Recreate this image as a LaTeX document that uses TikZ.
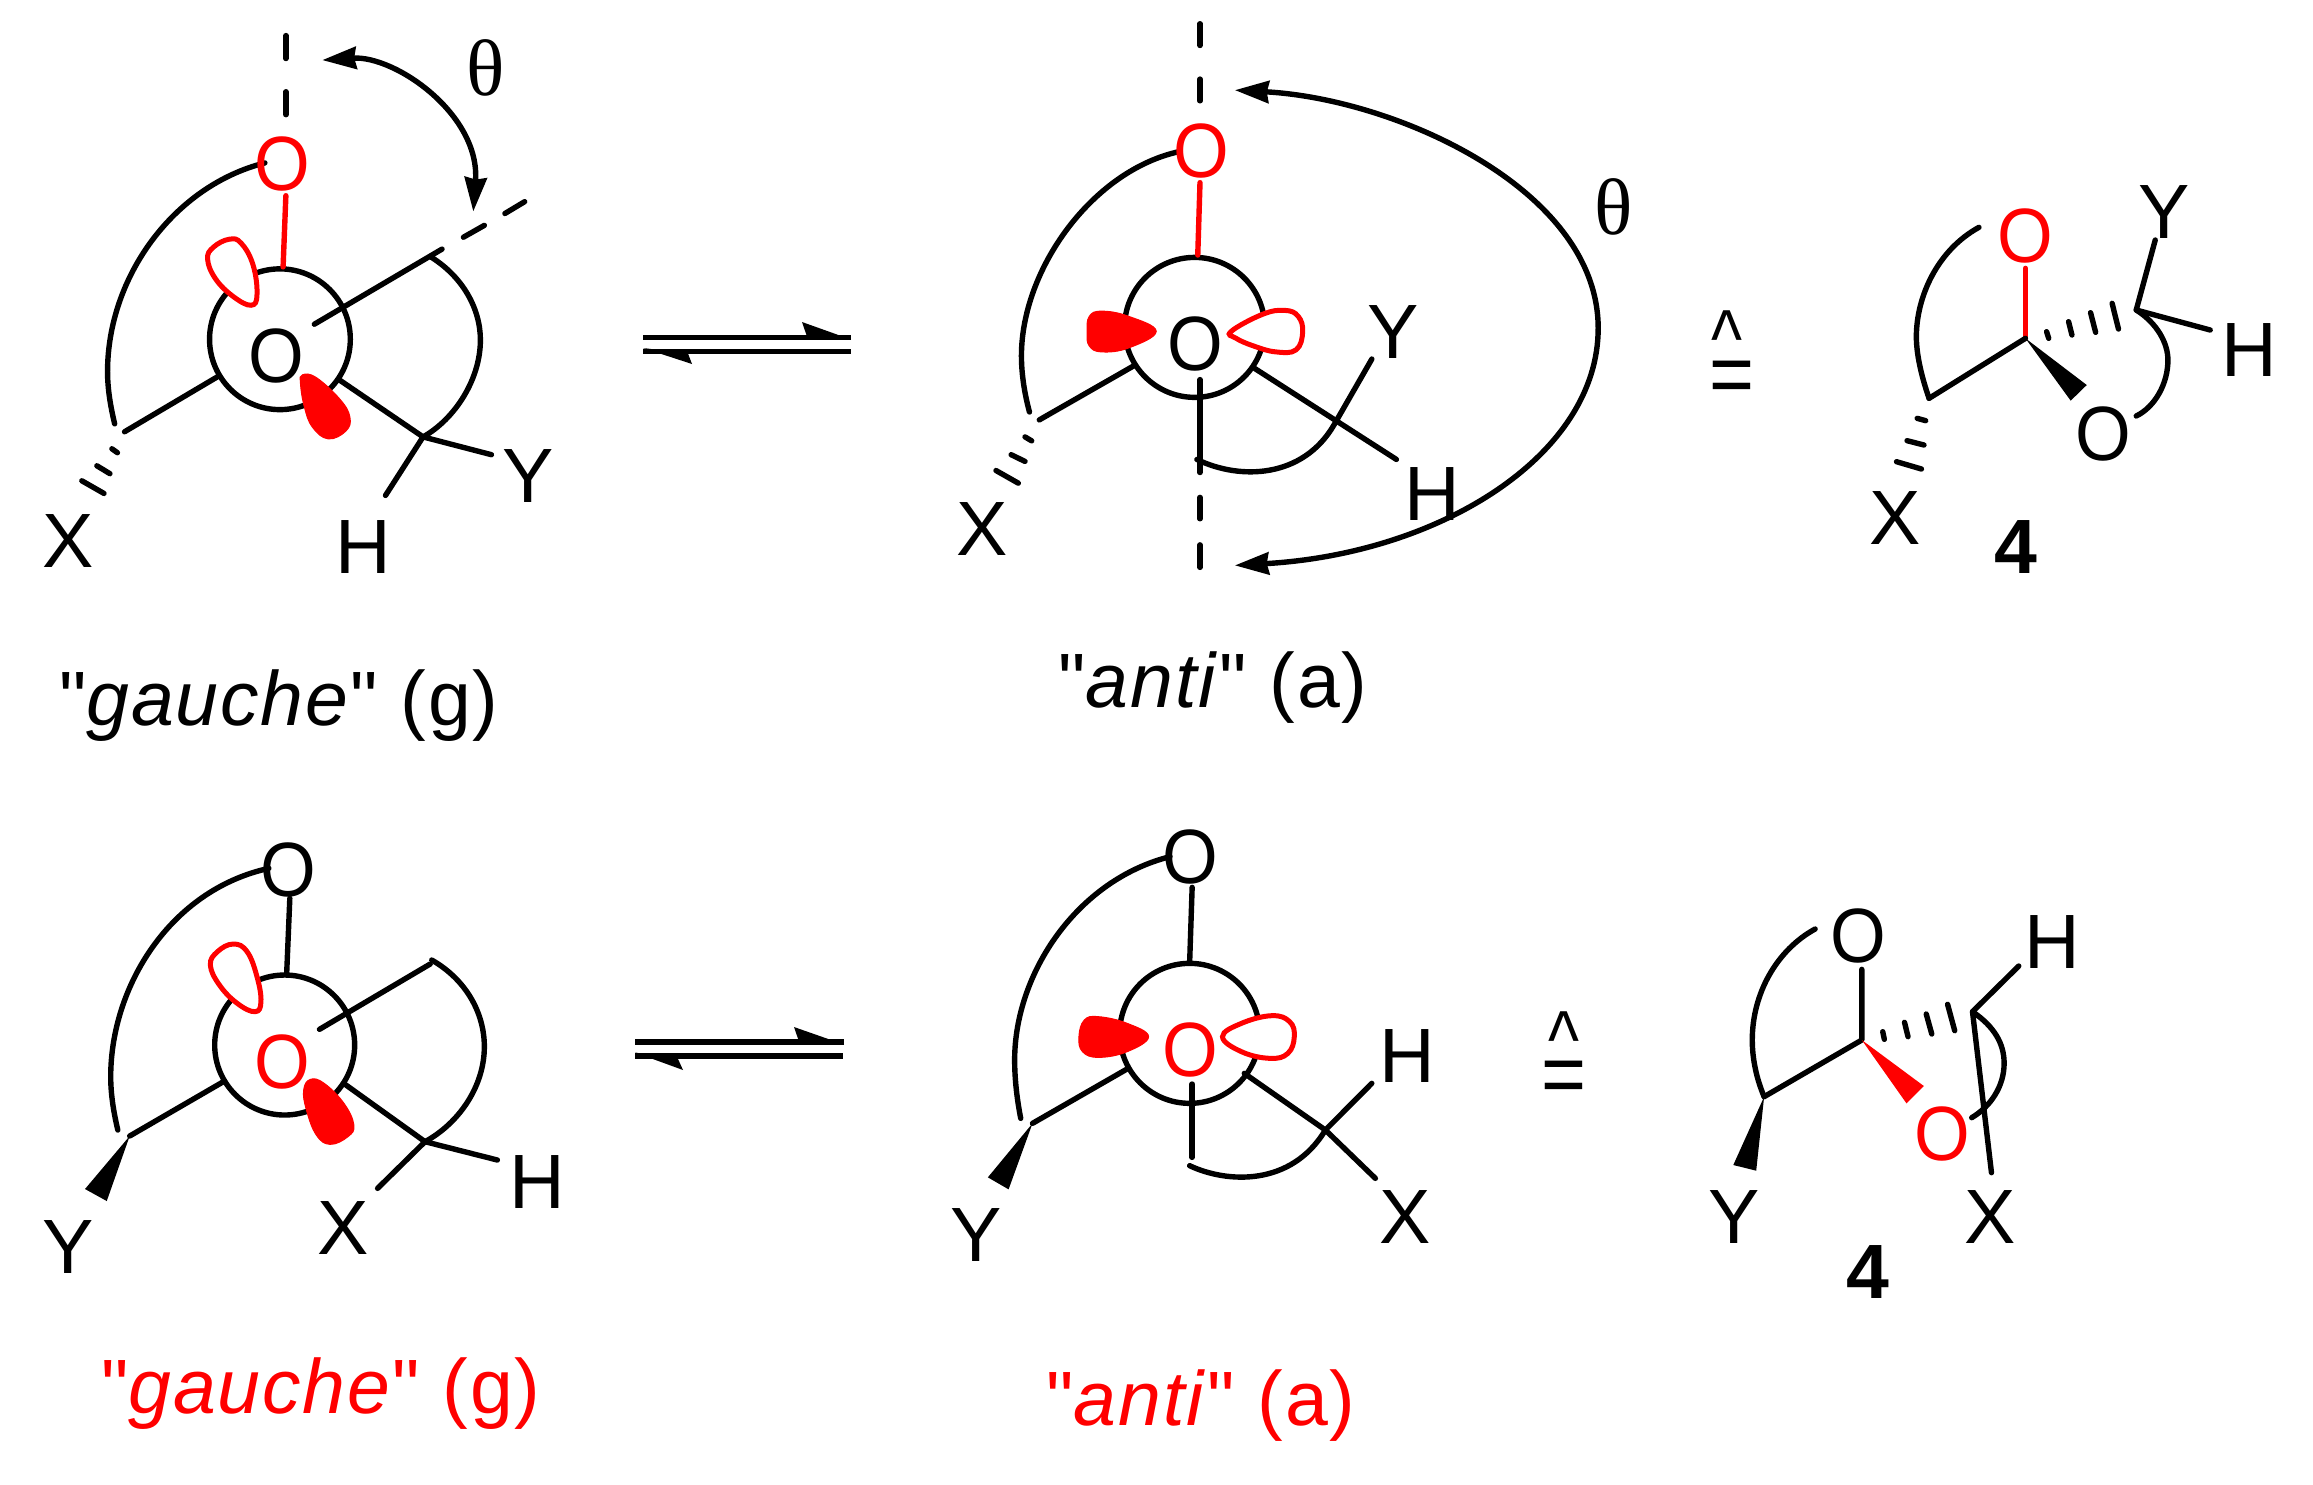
\documentclass[tikz,border=0pt]{standalone}
\usepackage{fontspec}
\usepackage{graphicx}
\setmainfont{Liberation Sans}
\newfontfamily\thetafont{Liberation Serif}
\newfontfamily\capfont[LetterSpace=2.4]{Liberation Sans}
\usetikzlibrary{arrows.meta}
\newcommand{\oxy}{\scalebox{.93}[1]{O}}
\newcommand{\dq}{\symbol{34}}
\newcommand{\caretglyph}{\scalebox{1}[1.25]{\symbol{94}}}
\newcommand{\eqglyph}{\scalebox{1}[1.15]{=}}
\tikzset{
  lab/.style={inner sep=0pt,outer sep=0pt,font=\fontsize{38.5}{40}\selectfont},
  caretlab/.style={inner sep=0pt,outer sep=0pt,anchor=base,font=\fontsize{33}{34}\selectfont},
  capt/.style={inner sep=0pt,outer sep=0pt,anchor=base,font=\capfont\fontsize{38.5}{40}\selectfont},
  bond/.style={line width=2.7pt,line cap=round,line join=round},
  ring/.style={line width=2.7pt},
  lobeopen/.style={draw=red,fill=white,line width=2.5pt},
  lobefull/.style={draw=red,fill=red,line width=.5pt},
  thetal/.style={inner sep=0pt,outer sep=0pt,font=\thetafont\fontsize{40}{42}\selectfont},
  dblarrow/.style={line width=2.7pt,{Stealth[length=17pt,width=11pt,inset=1pt]}-{Stealth[length=17pt,width=11pt,inset=1pt]}},
  wedge/.style={fill=black,draw=none},
  eqfill/.style={fill=black,draw=none},
  px/.style={x=.5pt,y=-.5pt}
}
\begin{document}
\begin{tikzpicture}
\fill[white] (0,0) rectangle (1156.5pt,-742pt);
\useasboundingbox (0,0) rectangle (1156.5pt,-742pt);

% ---------- panel 1: gauche top
\begin{scope}[x=.1977pt,y=-.1977pt]
\draw[ring] (708,858) ellipse [x radius=178,y radius=178];
\draw[bond] (723,90)--(723,148) (723,232)--(723,290);
\draw[bond,red] (723,495)--(716,675);
\draw[bond] (795,820)--(1118,630);
\draw[bond] (1172,600)--(1225,570) (1277,540)--(1327,510);
\draw[bond] (1090,650) .. controls (1170,700) and (1215,780) .. (1215,860) .. controls (1215,960) and (1150,1060) .. (1070,1105);
\draw[bond] (860,962)--(1070,1105)--(1243,1150) (1070,1105)--(975,1253);
\draw[bond] (555,950)--(315,1092);
\draw[bond] (670,412) .. controls (440,470) and (272,700) .. (272,940) .. controls (272,985) and (280,1030) .. (290,1072);
\draw[bond] (283,1135)--(297,1145) (245,1178)--(278,1198) (207,1216)--(263,1248);
\draw[dblarrow] (815,152) .. controls (1000,140) and (1215,290) .. (1197,535);
\draw[lobeopen] plot[smooth cycle,tension=.7] coordinates {(635,772)(650,745)(640,670)(610,615)(580,605)(540,625)(525,655)(545,705)(590,750)};
\draw[lobefull] plot[smooth cycle,tension=.7] coordinates {(765,948)(800,955)(860,1010)(885,1055)(875,1090)(830,1110)(790,1080)(770,1030)(760,970)};
\node[lab,text=red] (o1a) at (715,415) {\oxy};
\node[lab] (o1b) at (700,900) {\oxy};
\node[lab] (x1) at (172,1368) {X};
\node[lab] (h1) at (918,1383) {H};
\node[lab] (y1) at (1337,1203) {Y};
\node[thetal] (t1) at (1228,173) {θ};
\end{scope}

% ---------- panel 2: anti top
\begin{scope}[shift={(475pt,0pt)},x=.2232pt,y=-.1977pt]
\draw[ring] (548,828) ellipse [x radius=157,y radius=177];
\draw[bond] (560,60)--(560,115) (560,200)--(560,255);
\draw[bond,red] (560,462)--(555,645);
\draw[bond] (560,960)--(560,1195) (560,1258)--(560,1312) (560,1378)--(560,1435);
\draw[bond] (553,1162) .. controls (650,1215) and (790,1210) .. (860,1075) -- (945,908);
\draw[bond] (680,930)--(1000,1162);
\draw[bond] (412,925)--(200,1062);
\draw[bond] (515,383) .. controls (320,430) and (160,680) .. (160,900) .. controls (160,950) and (168,1000) .. (178,1042);
\draw[bond] (168,1105)--(183,1115) (137,1150)--(168,1167) (103,1190)--(153,1222);
\draw[dblarrow] (638,228) .. controls (1000,250) and (1452,480) .. (1452,830) .. controls (1452,1150) and (1100,1400) .. (638,1430);
\draw[lobefull] plot[smooth cycle,tension=.7] coordinates {(462,838)(400,800)(340,787)(312,800)(307,840)(312,875)(340,890)(400,880)};
\draw[lobeopen] plot[smooth cycle,tension=.7] coordinates {(630,838)(700,795)(750,785)(780,800)(790,840)(775,885)(730,890)(680,875)(640,855)};
\node[lab,text=red] (o2a) at (563,383) {\oxy};
\node[lab] (o2b) at (550,870) {\oxy};
\node[lab] (x2) at (72,1338) {X};
\node[lab] (h2) at (1080,1250) {H};
\node[lab] (y2) at (993,840) {Y};
\node[thetal] (t2) at (1487,523) {θ};
\end{scope}

% ---------- panel 3: product top
\begin{scope}[shift={(825pt,-75pt)},x=.2114pt,y=-.16667pt]
\draw[bond,red] (888,355)--(888,565);
\draw[bond] (888,565)--(660,745);
\draw[bond] (778,232) .. controls (680,300) and (630,440) .. (630,560) .. controls (630,620) and (645,690) .. (660,745);
\draw[bond] (632,805)--(652,812) (608,872)--(648,885) (583,935)--(642,957);
\fill[wedge] (888,565)--(1033,705)--(995,752)--cycle;
\draw[bond] (938,545)--(943,565) (990,515)--(998,555) (1042,488)--(1054,547) (1093,460)--(1108,537);
\draw[bond] (1195,270)--(1150,480)--(1325,540);
\draw[bond] (1150,480) .. controls (1200,520) and (1225,580) .. (1225,630) .. controls (1225,700) and (1195,770) .. (1150,798);
\node[lab,text=red] (o3a) at (888,258) {\oxy};
\node[lab] (o3b) at (1072,852) {\oxy};
\node[lab] (y3) at (1215,185) {Y};
\node[lab] (h3) at (1418,600) {H};
\node[lab] (x3) at (580,1103) {X};
\node[lab,font=\bfseries\fontsize{38.5}{40}\selectfont] (n3) at (865,1192) {4};
\node[caretlab] (c3) at (182,652) {\caretglyph};
\node[lab] (e3) at (193,698) {\eqglyph};
\end{scope}

% ---------- panel 4: gauche bottom
\begin{scope}[shift={(0pt,-410pt)},x=.1977pt,y=-.16667pt]
\draw[ring] (720,675) ellipse [x radius=177,y radius=210];
\draw[bond] (733,235)--(725,462);
\draw[bond] (808,628)--(1088,432);
\draw[bond] (1092,420) .. controls (1180,480) and (1225,580) .. (1225,680) .. controls (1225,800) and (1160,910) .. (1075,965);
\draw[bond] (875,795)--(1075,965)--(1258,1020) (1075,965)--(955,1105);
\draw[bond] (565,785)--(328,948);
\fill[wedge] (328,948)--(215,1107)--(270,1143)--cycle;
\draw[bond] (680,145) .. controls (430,210) and (280,500) .. (280,770) .. controls (280,825) and (288,880) .. (298,930);
\draw[lobeopen] plot[smooth cycle,tension=.7] coordinates {(645,575)(660,545)(650,470)(625,395)(590,372)(550,395)(532,435)(555,495)(600,550)};
\draw[lobefull] plot[smooth cycle,tension=.7] coordinates {(785,778)(820,790)(870,850)(895,915)(880,950)(835,973)(800,945)(775,870)(768,810)};
\node[lab] (o4a) at (730,150) {\oxy};
\node[lab,text=red] (o4b) at (714,725) {\oxy};
\node[lab] (y4) at (173,1280) {Y};
\node[lab] (x4) at (868,1225) {X};
\node[lab] (h4) at (1358,1085) {H};
\end{scope}

% ---------- panel 5: anti bottom
\begin{scope}[shift={(460pt,-400pt)},x=.17857pt,y=-.16667pt]
\draw[ring] (755,700) ellipse [x radius=196,y radius=210];
\draw[bond] (762,262)--(755,487);
\draw[bond] (700,170) .. controls (440,240) and (265,520) .. (265,780) .. controls (265,840) and (272,900) .. (282,955);
\draw[bond] (578,808)--(315,970);
\fill[wedge] (315,970)--(190,1132)--(248,1168)--cycle;
\draw[bond] (908,820)--(1135,990)--(1275,1135) (1135,990)--(1265,850);
\draw[bond] (762,852)--(762,1072);
\draw[bond] (755,1097) .. controls (860,1150) and (1040,1160) .. (1135,990);
\draw[lobefull] plot[smooth cycle,tension=.7] coordinates {(640,710)(580,670)(500,650)(460,660)(445,710)(455,755)(500,772)(580,755)};
\draw[lobeopen] plot[smooth cycle,tension=.7] coordinates {(847,710)(900,670)(985,647)(1035,665)(1048,710)(1030,760)(980,775)(900,755)};
\node[lab] (o5a) at (758,170) {\oxy};
\node[lab,text=red] (o5b) at (758,750) {\oxy};
\node[lab] (h5) at (1365,768) {H};
\node[lab] (x5) at (1358,1250) {X};
\node[lab] (y5) at (158,1305) {Y};
\end{scope}

% ---------- panel 6: product bottom
\begin{scope}[shift={(750pt,-440pt)},x=.1977pt,y=-.16667pt]
\draw[bond] (915,268)--(915,480)--(668,650);
\draw[bond] (797,147) .. controls (700,210) and (638,340) .. (638,480) .. controls (638,540) and (650,600) .. (668,650);
\fill[wedge] (668,650)--(590,855)--(648,872)--cycle;
\fill[red] (915,480)--(1072,618)--(1028,670)--cycle;
\draw[bond] (968,455)--(972,478) (1023,427)--(1032,470) (1078,402)--(1092,462) (1132,373)--(1150,452);
\draw[bond] (1312,258)--(1195,395)--(1243,878);
\draw[bond] (1195,395) .. controls (1250,440) and (1275,490) .. (1275,550) .. controls (1275,620) and (1240,680) .. (1193,713);
\node[lab] (o6a) at (907,168) {\oxy};
\node[lab,text=red] (o6b) at (1118,762) {\oxy};
\node[lab] (h6) at (1398,185) {H};
\node[lab] (y6) at (593,1010) {Y};
\node[lab] (x6) at (1240,1010) {X};
\node[lab,font=\bfseries\fontsize{38.5}{40}\selectfont] (n6) at (930,1175) {4};
\node[caretlab] (c6) at (163,566) {\caretglyph};
\node[lab] (e6) at (163,608) {\eqglyph};
\end{scope}

% ---------- equilibrium arrows and captions (image pixels)
\begin{scope}[px]
\fill[eqfill] (643,334.5) rectangle (851,339.5);
\fill[eqfill] (851,339.5)--(802,322)--(808,339.5)--cycle;
\fill[eqfill] (643,348.5) rectangle (851,353.5);
\fill[eqfill] (643,348)--(692,364)--(688,353.5)--cycle;
\fill[eqfill] (635,1039) rectangle (844,1045);
\fill[eqfill] (844,1044.5)--(794,1027)--(800,1044.5)--cycle;
\fill[eqfill] (635,1053) rectangle (843,1059);
\fill[eqfill] (635,1052.5)--(683,1070)--(678,1059)--cycle;
\node[capt] (cap1) at (279,725) {\dq\textit{gauche}\dq{} (g)};
\node[capt] (cap2) at (1213,707) {\dq\textit{anti}\dq{} (a)};
\node[capt,text=red] (cap3) at (321,1413) {\dq\textit{gauche}\dq{} (g)};
\node[capt,text=red] (cap4) at (1201,1425) {\dq\textit{anti}\dq{} (a)};
\end{scope}
\end{tikzpicture}
\end{document}
